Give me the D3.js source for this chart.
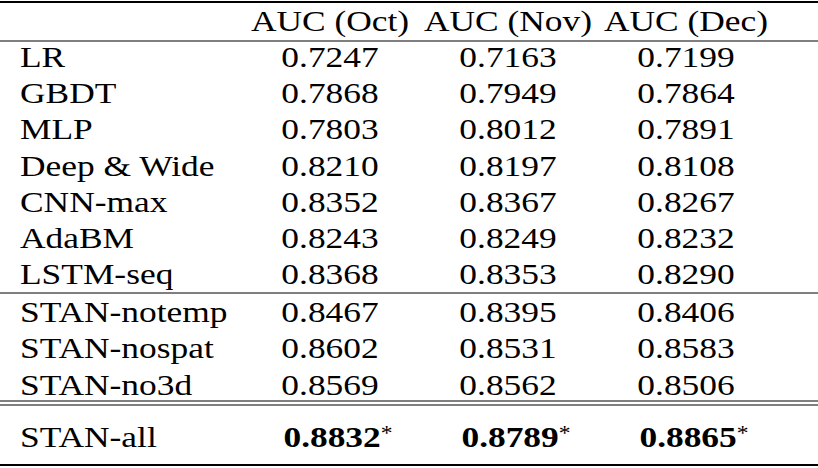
<!DOCTYPE html>
<html><head><meta charset="utf-8">
<script src="https://cdn.jsdelivr.net/npm/d3@7"></script>
<style>body{margin:0;background:#fff}</style>
</head><body><div id="tbl"></div>
<script>
      var headers = ["AUC (Oct)", "AUC (Nov)", "AUC (Dec)"];
      var models = ["LR", "GBDT", "MLP", "Deep & Wide", "CNN-max", "AdaBM", "LSTM-seq",
                    "STAN-notemp", "STAN-nospat", "STAN-no3d", "STAN-all"];
      var oct = ["0.7247", "0.7868", "0.7803", "0.8210", "0.8352", "0.8243", "0.8368", "0.8467", "0.8602", "0.8569", "0.8832"];
      var nov = ["0.7163", "0.7949", "0.8012", "0.8197", "0.8367", "0.8249", "0.8353", "0.8395", "0.8531", "0.8562", "0.8789"];
      var dec = ["0.7199", "0.7864", "0.7891", "0.8108", "0.8267", "0.8232", "0.8290", "0.8406", "0.8583", "0.8506", "0.8865"];
      var best = "STAN-all";

      var width = 818, height = 468;
      var sx = 1.18; // the reference glyphs are wider than Liberation Serif
      var svg = d3.select('#tbl').append('svg').attr('width', width).attr('height', height)
                  .style('font-family', '"Liberation Serif", serif').style('font-size', '30px');
      var y = d3.scaleLinear().domain([0, 6]).range([67, 284]);
      function rowY(i) {
        if (i < 7) return y(i);
        if (i < 10) return y(i) + 2;
        return 447;
      }
      var x = d3.scalePoint().domain(headers).range([330, 686]);

      function rule(yy, w) {
        svg.append('line').attr('x1', 0).attr('x2', width).attr('y1', yy).attr('y2', yy)
           .attr('stroke', '#000').attr('stroke-width', w);
      }
      rule(2, 2); rule(41, 1.2); rule(293, 1.2); rule(401, 1.2); rule(405, 1.2); rule(465, 2);

      function put(px, py, anchor) {
        return svg.append('text').attr('transform', 'translate(' + px + ',' + py + ') scale(' + sx + ',1)')
                  .attr('text-anchor', anchor);
      }

      headers.forEach(function(h){ put(x(h), 31, 'middle').text(h); });
      models.forEach(function(m, i){ put(20, rowY(i), 'start').text(m); });

      [oct, nov, dec].forEach(function(col, c) {
        col.forEach(function(v, i) {
          if (models[i] === best) {
            var t = put(x(headers[c]) + 8, rowY(i), 'middle');
            t.append('tspan').attr('font-weight', 'bold').text(v);
            t.append('tspan').attr('font-size', '20px').attr('dy', -7).text('*');
          } else put(x(headers[c]), rowY(i), 'middle').text(v);
        });
      });
</script></body></html>
